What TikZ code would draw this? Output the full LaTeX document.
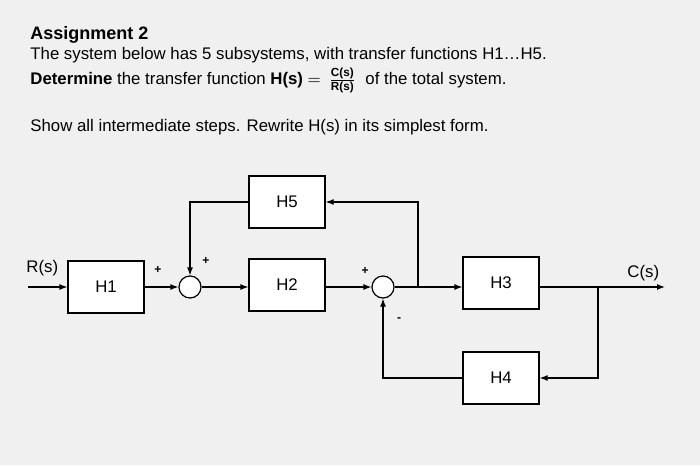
\documentclass[tikz,border=0pt]{standalone}
\usepackage{fontspec}
\setmainfont{Liberation Sans}
\usepackage{amsmath}
\usetikzlibrary{arrows.meta}
\begin{document}
\begin{tikzpicture}[x=0.5pt,y=-0.5pt,
  blk/.style={draw,line width=0.6pt,minimum width=38pt,minimum height=26pt,fill=white,font=\fontsize{8.4}{10}\selectfont},
  sumj/.style={draw,circle,line width=0.6pt,minimum size=11pt,inner sep=0pt,fill=white},
  sig/.style={line width=0.6pt,-{Latex[length=4pt,width=3pt]}},
  txt/.style={anchor=base west,inner sep=0pt,font=\fontsize{8.4}{10}\selectfont},
  sgn/.style={font=\fontsize{6}{7}\selectfont\bfseries,inner sep=0pt}]
\fill[black!6] (0,0) rectangle (700,465);
\useasboundingbox (0,0) rectangle (700,465);
\node[txt,font=\fontsize{9}{11}\selectfont\bfseries] (t1) at (30,40) {Assignment 2};
\node[txt] (t2) at (30,60) {The system below has 5 subsystems, with transfer functions H1\ldots H5.};
\node[txt] (t3) at (30,84) {\textbf{Determine} the transfer function \textbf{H(s)} $=\,\frac{\text{\textbf{C(s)}}}{\text{\textbf{R(s)}}}$\ \ of the total system.};
\node[txt] (t4) at (30,131) {Show all intermediate steps. Rewrite H(s) in its simplest form.};

\node[blk] (h1) at (106,287) {H1};
\node[blk] (h5) at (287,202) {H5};
\node[blk] (h2) at (287,285) {H2};
\node[blk] (h3) at (501,283) {H3};
\node[blk] (h4) at (501,378) {H4};
\node[sumj] (s1) at (190,287) {};
\node[sumj] (s2) at (383,287) {};
\coordinate (in) at (28,287);
\coordinate (out) at (665,287);
\coordinate (b1) at (418,287);
\coordinate (b2) at (598,287);

\node[txt,font=\fontsize{8.4}{10}\selectfont] (rs) at (26,272) {R(s)};
\node[txt,font=\fontsize{8.4}{10}\selectfont] (cs) at (627,277) {C(s)};
\node[sgn] (p1) at (158,270) {+};
\node[sgn] (p2) at (206,261) {+};
\node[sgn] (p3) at (365,271) {+};
\node[sgn] (m1) at (399,320) {-};

\draw[sig] (in) -- (h1);
\draw[sig] (h1) -- (s1);
\draw[sig] (s1) -- (s1 -| h2.west);
\draw[sig] (h2.east |- s2) -- (s2);
\draw[sig] (s2) -- (s2 -| h3.west);
\draw[sig] (h3.east |- out) -- (out);
\draw[sig] (b1) |- (h5);
\draw[sig] (h5) -| (s1);
\draw[sig] (b2) |- (h4);
\draw[sig] (h4) -| (s2);
\end{tikzpicture}
\end{document}
